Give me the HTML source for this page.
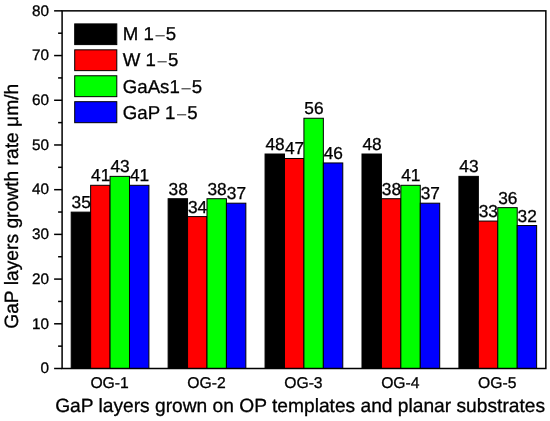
<!DOCTYPE html><html><head><meta charset="utf-8"><title>chart</title><style>html,body{margin:0;padding:0;background:#fff}svg{display:block}text{font-family:"Liberation Sans",sans-serif;fill:#000;stroke:#000;stroke-width:0.3px;text-rendering:geometricPrecision}</style></head><body>
<svg width="550" height="421" viewBox="0 0 550 421">
<rect width="550" height="421" fill="#fff"/>
<rect x="71.20" y="212.13" width="19.43" height="156.37" fill="#000000" stroke="#000" stroke-width="1"/>
<rect x="90.63" y="185.30" width="19.43" height="183.20" fill="#ff0000" stroke="#000" stroke-width="1"/>
<rect x="110.06" y="176.36" width="19.43" height="192.14" fill="#00ff00" stroke="#000" stroke-width="1"/>
<rect x="129.49" y="185.30" width="19.43" height="183.20" fill="#0000ff" stroke="#000" stroke-width="1"/>
<rect x="168.13" y="198.72" width="19.43" height="169.78" fill="#000000" stroke="#000" stroke-width="1"/>
<rect x="187.56" y="216.60" width="19.43" height="151.90" fill="#ff0000" stroke="#000" stroke-width="1"/>
<rect x="206.99" y="198.72" width="19.43" height="169.78" fill="#00ff00" stroke="#000" stroke-width="1"/>
<rect x="226.42" y="203.19" width="19.43" height="165.31" fill="#0000ff" stroke="#000" stroke-width="1"/>
<rect x="265.06" y="154.01" width="19.43" height="214.49" fill="#000000" stroke="#000" stroke-width="1"/>
<rect x="284.49" y="158.48" width="19.43" height="210.02" fill="#ff0000" stroke="#000" stroke-width="1"/>
<rect x="303.92" y="118.25" width="19.43" height="250.25" fill="#00ff00" stroke="#000" stroke-width="1"/>
<rect x="323.35" y="162.95" width="19.43" height="205.55" fill="#0000ff" stroke="#000" stroke-width="1"/>
<rect x="361.99" y="154.01" width="19.43" height="214.49" fill="#000000" stroke="#000" stroke-width="1"/>
<rect x="381.42" y="198.72" width="19.43" height="169.78" fill="#ff0000" stroke="#000" stroke-width="1"/>
<rect x="400.85" y="185.30" width="19.43" height="183.20" fill="#00ff00" stroke="#000" stroke-width="1"/>
<rect x="420.28" y="203.19" width="19.43" height="165.31" fill="#0000ff" stroke="#000" stroke-width="1"/>
<rect x="458.92" y="176.36" width="19.43" height="192.14" fill="#000000" stroke="#000" stroke-width="1"/>
<rect x="478.35" y="221.07" width="19.43" height="147.43" fill="#ff0000" stroke="#000" stroke-width="1"/>
<rect x="497.78" y="207.66" width="19.43" height="160.84" fill="#00ff00" stroke="#000" stroke-width="1"/>
<rect x="517.21" y="225.54" width="19.43" height="142.96" fill="#0000ff" stroke="#000" stroke-width="1"/>
<text x="81.22" y="208.13" font-size="17.3" text-anchor="middle">35</text>
<text x="100.64" y="181.30" font-size="17.3" text-anchor="middle">41</text>
<text x="120.08" y="172.36" font-size="17.3" text-anchor="middle">43</text>
<text x="139.51" y="181.30" font-size="17.3" text-anchor="middle">41</text>
<text x="178.15" y="194.72" font-size="17.3" text-anchor="middle">38</text>
<text x="197.58" y="212.60" font-size="17.3" text-anchor="middle">34</text>
<text x="217.01" y="194.72" font-size="17.3" text-anchor="middle">38</text>
<text x="236.44" y="199.19" font-size="17.3" text-anchor="middle">37</text>
<text x="275.07" y="150.01" font-size="17.3" text-anchor="middle">48</text>
<text x="294.50" y="154.48" font-size="17.3" text-anchor="middle">47</text>
<text x="313.94" y="114.25" font-size="17.3" text-anchor="middle">56</text>
<text x="333.37" y="158.95" font-size="17.3" text-anchor="middle">46</text>
<text x="372.00" y="150.01" font-size="17.3" text-anchor="middle">48</text>
<text x="391.44" y="194.72" font-size="17.3" text-anchor="middle">38</text>
<text x="410.87" y="181.30" font-size="17.3" text-anchor="middle">41</text>
<text x="430.30" y="199.19" font-size="17.3" text-anchor="middle">37</text>
<text x="468.94" y="172.36" font-size="17.3" text-anchor="middle">43</text>
<text x="488.37" y="217.07" font-size="17.3" text-anchor="middle">33</text>
<text x="507.80" y="203.66" font-size="17.3" text-anchor="middle">36</text>
<text x="527.23" y="221.54" font-size="17.3" text-anchor="middle">32</text>
<rect x="62.1" y="10.85" width="483.75" height="357.65" fill="none" stroke="#000" stroke-width="1.5"/>
<line x1="54.1" y1="368.50" x2="62.1" y2="368.50" stroke="#000" stroke-width="1.5"/>
<text x="49.1" y="373.30" font-size="15.3" text-anchor="end">0</text>
<line x1="58.1" y1="346.15" x2="62.1" y2="346.15" stroke="#000" stroke-width="1.5"/>
<line x1="54.1" y1="323.79" x2="62.1" y2="323.79" stroke="#000" stroke-width="1.5"/>
<text x="49.1" y="328.59" font-size="15.3" text-anchor="end">10</text>
<line x1="58.1" y1="301.44" x2="62.1" y2="301.44" stroke="#000" stroke-width="1.5"/>
<line x1="54.1" y1="279.09" x2="62.1" y2="279.09" stroke="#000" stroke-width="1.5"/>
<text x="49.1" y="283.89" font-size="15.3" text-anchor="end">20</text>
<line x1="58.1" y1="256.73" x2="62.1" y2="256.73" stroke="#000" stroke-width="1.5"/>
<line x1="54.1" y1="234.38" x2="62.1" y2="234.38" stroke="#000" stroke-width="1.5"/>
<text x="49.1" y="239.18" font-size="15.3" text-anchor="end">30</text>
<line x1="58.1" y1="212.03" x2="62.1" y2="212.03" stroke="#000" stroke-width="1.5"/>
<line x1="54.1" y1="189.68" x2="62.1" y2="189.68" stroke="#000" stroke-width="1.5"/>
<text x="49.1" y="194.48" font-size="15.3" text-anchor="end">40</text>
<line x1="58.1" y1="167.32" x2="62.1" y2="167.32" stroke="#000" stroke-width="1.5"/>
<line x1="54.1" y1="144.97" x2="62.1" y2="144.97" stroke="#000" stroke-width="1.5"/>
<text x="49.1" y="149.77" font-size="15.3" text-anchor="end">50</text>
<line x1="58.1" y1="122.62" x2="62.1" y2="122.62" stroke="#000" stroke-width="1.5"/>
<line x1="54.1" y1="100.26" x2="62.1" y2="100.26" stroke="#000" stroke-width="1.5"/>
<text x="49.1" y="105.06" font-size="15.3" text-anchor="end">60</text>
<line x1="58.1" y1="77.91" x2="62.1" y2="77.91" stroke="#000" stroke-width="1.5"/>
<line x1="54.1" y1="55.56" x2="62.1" y2="55.56" stroke="#000" stroke-width="1.5"/>
<text x="49.1" y="60.36" font-size="15.3" text-anchor="end">70</text>
<line x1="58.1" y1="33.20" x2="62.1" y2="33.20" stroke="#000" stroke-width="1.5"/>
<line x1="54.1" y1="10.85" x2="62.1" y2="10.85" stroke="#000" stroke-width="1.5"/>
<text x="49.1" y="15.65" font-size="15.3" text-anchor="end">80</text>
<text x="109.56" y="388.25" font-size="15.7" text-anchor="middle">OG-1</text>
<text x="206.49" y="388.25" font-size="15.7" text-anchor="middle">OG-2</text>
<text x="303.42" y="388.25" font-size="15.7" text-anchor="middle">OG-3</text>
<text x="400.35" y="388.25" font-size="15.7" text-anchor="middle">OG-4</text>
<text x="497.28" y="388.25" font-size="15.7" text-anchor="middle">OG-5</text>
<text id="xt" x="300.1" y="412.3" font-size="19.2" text-anchor="middle">GaP layers grown on OP templates and planar substrates</text>
<text id="yt" transform="translate(18.2,206.3) rotate(-90)" font-size="19.25" text-anchor="middle">GaP layers growth rate μm/h</text>
<rect x="74.7" y="23.90" width="42.1" height="20.70" fill="#000000" stroke="#000" stroke-width="1"/>
<text class="lg" x="122.8" y="39.8" font-size="18.65">M 1<tspan fill="#333" stroke="none" font-size="16.6" dx="1.6">–</tspan><tspan dx="1.1">5</tspan></text>
<rect x="74.7" y="49.83" width="42.1" height="20.80" fill="#ff0000" stroke="#000" stroke-width="1"/>
<text class="lg" x="122.8" y="65.9" font-size="18.65">W 1<tspan fill="#333" stroke="none" font-size="16.6" dx="1.6">–</tspan><tspan dx="1.1">5</tspan></text>
<rect x="74.7" y="75.76" width="42.1" height="20.90" fill="#00ff00" stroke="#000" stroke-width="1"/>
<text class="lg" x="122.8" y="92.5" font-size="18.65">GaAs1<tspan fill="#333" stroke="none" font-size="16.6" dx="1.6">–</tspan><tspan dx="1.1">5</tspan></text>
<rect x="74.7" y="101.69" width="42.1" height="21.00" fill="#0000ff" stroke="#000" stroke-width="1"/>
<text class="lg" x="122.8" y="118.6" font-size="18.65">GaP 1<tspan fill="#333" stroke="none" font-size="16.6" dx="1.6">–</tspan><tspan dx="1.1">5</tspan></text>
</svg></body></html>
